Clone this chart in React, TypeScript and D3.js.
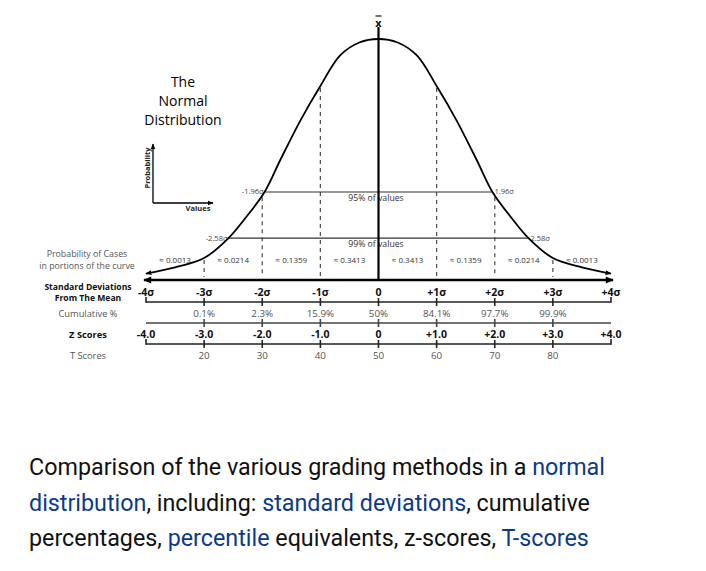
import React from 'react';
import * as d3 from 'd3';

// curve: z (in sigma) and relative height (peak = 1)
const curveZ = [-4, -3.5, -3, -2.58, -2.3, -1.96, -1.69, -1.34, -1, -0.66, -0.33, 0, 0.33, 0.66, 1, 1.34, 1.69, 1.96, 2.3, 2.58, 3, 3.5, 4];
const curveDensity = [0.002, 0.028, 0.068, 0.153, 0.235, 0.349, 0.485, 0.655, 0.8, 0.93, 0.985, 1, 0.985, 0.93, 0.8, 0.655, 0.485, 0.349, 0.235, 0.153, 0.068, 0.028, 0.002];

const sigmaTicks = [-4, -3, -2, -1, 0, 1, 2, 3, 4];
const sigmaLabels = ['-4σ', '-3σ', '-2σ', '-1σ', '0', '+1σ', '+2σ', '+3σ', '+4σ'];
const zLabels = ['-4.0', '-3.0', '-2.0', '-1.0', '0', '+1.0', '+2.0', '+3.0', '+4.0'];
const innerTicks = [-3, -2, -1, 0, 1, 2, 3];
const cumulative = ['0.1%', '2.3%', '15.9%', '50%', '84.1%', '97.7%', '99.9%'];
const tScores = ['20', '30', '40', '50', '60', '70', '80'];
const dashedAt = [-3, -2, -1, 1, 2, 3];
const caseZ = [-3.5, -2.5, -1.5, -0.5, 0.5, 1.5, 2.5, 3.5];
const caseProb = ['0.0013', '0.0214', '0.1359', '0.3413', '0.3413', '0.1359', '0.0214', '0.0013'];
const intervalZ = [1.96, 2.58];
const intervalLabels = ['95% of values', '99% of values'];
const titleLines = ['The', 'Normal', 'Distribution'];

const captionLines: [string, boolean][][] = [
  [['Comparison of the various grading methods in a ', false], ['normal', true]],
  [['distribution', true], [', including: ', false], ['standard deviations', true], [', cumulative', false]],
  [['percentages, ', false], ['percentile', true], [' equivalents, z-scores, ', false], ['T-scores', true]],
];

const W = 706;
const H = 571;
const font = '"Open Sans", sans-serif';

const x = d3.scaleLinear().domain([-4, 4]).range([146, 611]);
const y = d3.scaleLinear().domain([0, 1]).range([274, 39]);

const densityAt = (z: number) => {
  const i = d3.bisectLeft(curveZ, z);
  if (curveZ[i] === z) return curveDensity[i];
  const t = (z - curveZ[i - 1]) / (curveZ[i] - curveZ[i - 1]);
  return curveDensity[i - 1] + t * (curveDensity[i] - curveDensity[i - 1]);
};

const AXIS_Y = 280;
const ROW1 = 302;
const ROW2 = 323;
const ROW3 = 344;

export default function App() {
  const curvePath = d3.line<number>()
    .x((_, i) => x(curveZ[i]))
    .y(d => y(d))
    .curve(d3.curveCatmullRom.alpha(0.5))(curveDensity) || '';

  const bracket = (yy: number, caps: boolean, color: string) => (
    <g>
      <line x1={x(-4)} x2={x(4)} y1={yy} y2={yy} stroke={color} strokeWidth={1.6} />
      {caps && [-4, 4].map(z => (
        <line key={z} x1={x(z)} x2={x(z)} y1={yy - 5} y2={yy + 0.8} stroke={color} strokeWidth={1.6} />
      ))}
      {innerTicks.map(z => (
        <line key={z} x1={x(z)} x2={x(z)} y1={yy - 4} y2={yy + 4} stroke={color} strokeWidth={1.6} />
      ))}
    </g>
  );

  return (
    <div style={{ position: 'absolute', left: 0, top: 0, width: W, height: H, background: '#fff' }}>
      <svg width={W} height={H} style={{ display: 'block', fontFamily: font }}>
        <defs>
          <marker id="arr" viewBox="0 0 10 10" refX="9" refY="5" markerWidth="6" markerHeight="6" orient="auto-start-reverse" markerUnits="userSpaceOnUse">
            <path d="M0,1 L10,5 L0,9 z" fill="#000" />
          </marker>
          <marker id="arrBig" viewBox="0 0 10 10" refX="9" refY="5" markerWidth="10" markerHeight="8" orient="auto-start-reverse" markerUnits="userSpaceOnUse">
            <path d="M0,0.5 L10,5 L0,9.5 z" fill="#000" />
          </marker>
        </defs>

        {/* title */}
        <g fontSize={14} textAnchor="middle" fill="#000">
          {titleLines.map((t, i) => (
            <text key={t} x={183} y={86.5 + i * 19.3}>{t}</text>
          ))}
        </g>

        {/* inset axes */}
        <line x1={153} x2={153} y1={203} y2={144} stroke="#000" strokeWidth={1.3} markerEnd="url(#arr)" />
        <line x1={153} x2={213} y1={203} y2={203} stroke="#000" strokeWidth={1.3} markerEnd="url(#arr)" />
        <text transform="translate(150,168) rotate(-90)" textAnchor="middle" fontSize={7.5} fontWeight="bold" fill="#222">Probability</text>
        <text x={198} y={211} textAnchor="middle" fontSize={7.5} fontWeight="bold" fill="#222">Values</text>

        {/* dashed sigma lines */}
        {dashedAt.map(z => (
          <line key={z} x1={x(z)} x2={x(z)} y1={y(densityAt(z)) + 2} y2={AXIS_Y - 3}
            stroke="#555" strokeWidth={1.3} strokeDasharray="4,4" />
        ))}

        {/* interval lines */}
        {intervalZ.map((z, i) => {
          const yy = y(densityAt(z));
          return (
            <g key={z}>
              <line x1={x(-z)} x2={x(z)} y1={yy} y2={yy} stroke="#333" strokeWidth={1.2} />
              <text x={x(-z) - 1} y={yy + 2.5} textAnchor="end" fontSize={7.5} fill="#444">{`-${z}σ`}</text>
              <text x={x(z) + 2} y={yy + 2.5} fontSize={7.5} fill="#444">{`${z}σ`}</text>
              <text x={376} y={yy + 9} textAnchor="middle" fontSize={8.7} fill="#333">{intervalLabels[i]}</text>
            </g>
          );
        })}

        {/* curve */}
        <path d={curvePath} fill="none" stroke="#000" strokeWidth={1.8}
          markerStart="url(#arr)" markerEnd="url(#arr)" />

        {/* mean line */}
        <line x1={x(0)} x2={x(0)} y1={27} y2={AXIS_Y} stroke="#000" strokeWidth={2.2} />
        <text x={x(0)} y={27} textAnchor="middle" fontSize={11} fontWeight="bold" fill="#111">x</text>
        <line x1={x(0) - 3} x2={x(0) + 3} y1={16} y2={16} stroke="#111" strokeWidth={1.2} />

        {/* probability of cases */}
        {caseZ.map((z, i) => (
          <text key={i} x={x(z)} y={263} textAnchor="middle" fontSize={8} fill="#333">{`≈ ${caseProb[i]}`}</text>
        ))}

        {/* main axis */}
        <line x1={x(-4) - 2} x2={x(4) + 2} y1={AXIS_Y} y2={AXIS_Y} stroke="#000" strokeWidth={2.4}
          markerStart="url(#arrBig)" markerEnd="url(#arrBig)" />

        {/* row labels */}
        <g fontSize={8.8} textAnchor="middle">
          <text x={87} y={257} fill="#555">Probability of Cases</text>
          <text x={87} y={269} fill="#555">in portions of the curve</text>
          <text x={88} y={290} fontSize={8.6} fontWeight="bold" fill="#111">Standard Deviations</text>
          <text x={88} y={301} fontSize={8.6} fontWeight="bold" fill="#111">From The Mean</text>
          <text x={88} y={317} fontSize={9.3} fill="#555">Cumulative %</text>
          <text x={88} y={338} fontSize={9.3} fontWeight="bold" fill="#111">Z Scores</text>
          <text x={88} y={359} fontSize={9.3} fill="#555">T Scores</text>
        </g>

        {sigmaTicks.map((z, i) => (
          <text key={z} x={x(z)} y={296} textAnchor="middle" fontSize={10.5} fontWeight="bold" fill="#111">{sigmaLabels[i]}</text>
        ))}
        {bracket(ROW1, true, '#222')}

        {innerTicks.map((z, i) => (
          <text key={z} x={x(z)} y={317} textAnchor="middle" fontSize={9.8} fill="#555">{cumulative[i]}</text>
        ))}
        {bracket(ROW2, false, '#444')}

        {sigmaTicks.map((z, i) => (
          <text key={z} x={x(z)} y={338} textAnchor="middle" fontSize={10.5} fontWeight="bold" fill="#111">{zLabels[i]}</text>
        ))}
        {bracket(ROW3, true, '#222')}

        {innerTicks.map((z, i) => (
          <text key={z} x={x(z)} y={359} textAnchor="middle" fontSize={9.8} fill="#555">{tScores[i]}</text>
        ))}

        {/* caption */}
        <g fontFamily="Roboto, sans-serif" fontSize={23.3} fill="#111">
          {captionLines.map((parts, li) => (
            <text key={li} x={29} y={475 + li * 35.5}>
              {parts.map(([s, link], pi) => (
                <tspan key={pi} fill={link ? '#0b3a8c' : '#111'}>{s}</tspan>
              ))}
            </text>
          ))}
        </g>
      </svg>
    </div>
  );
}
